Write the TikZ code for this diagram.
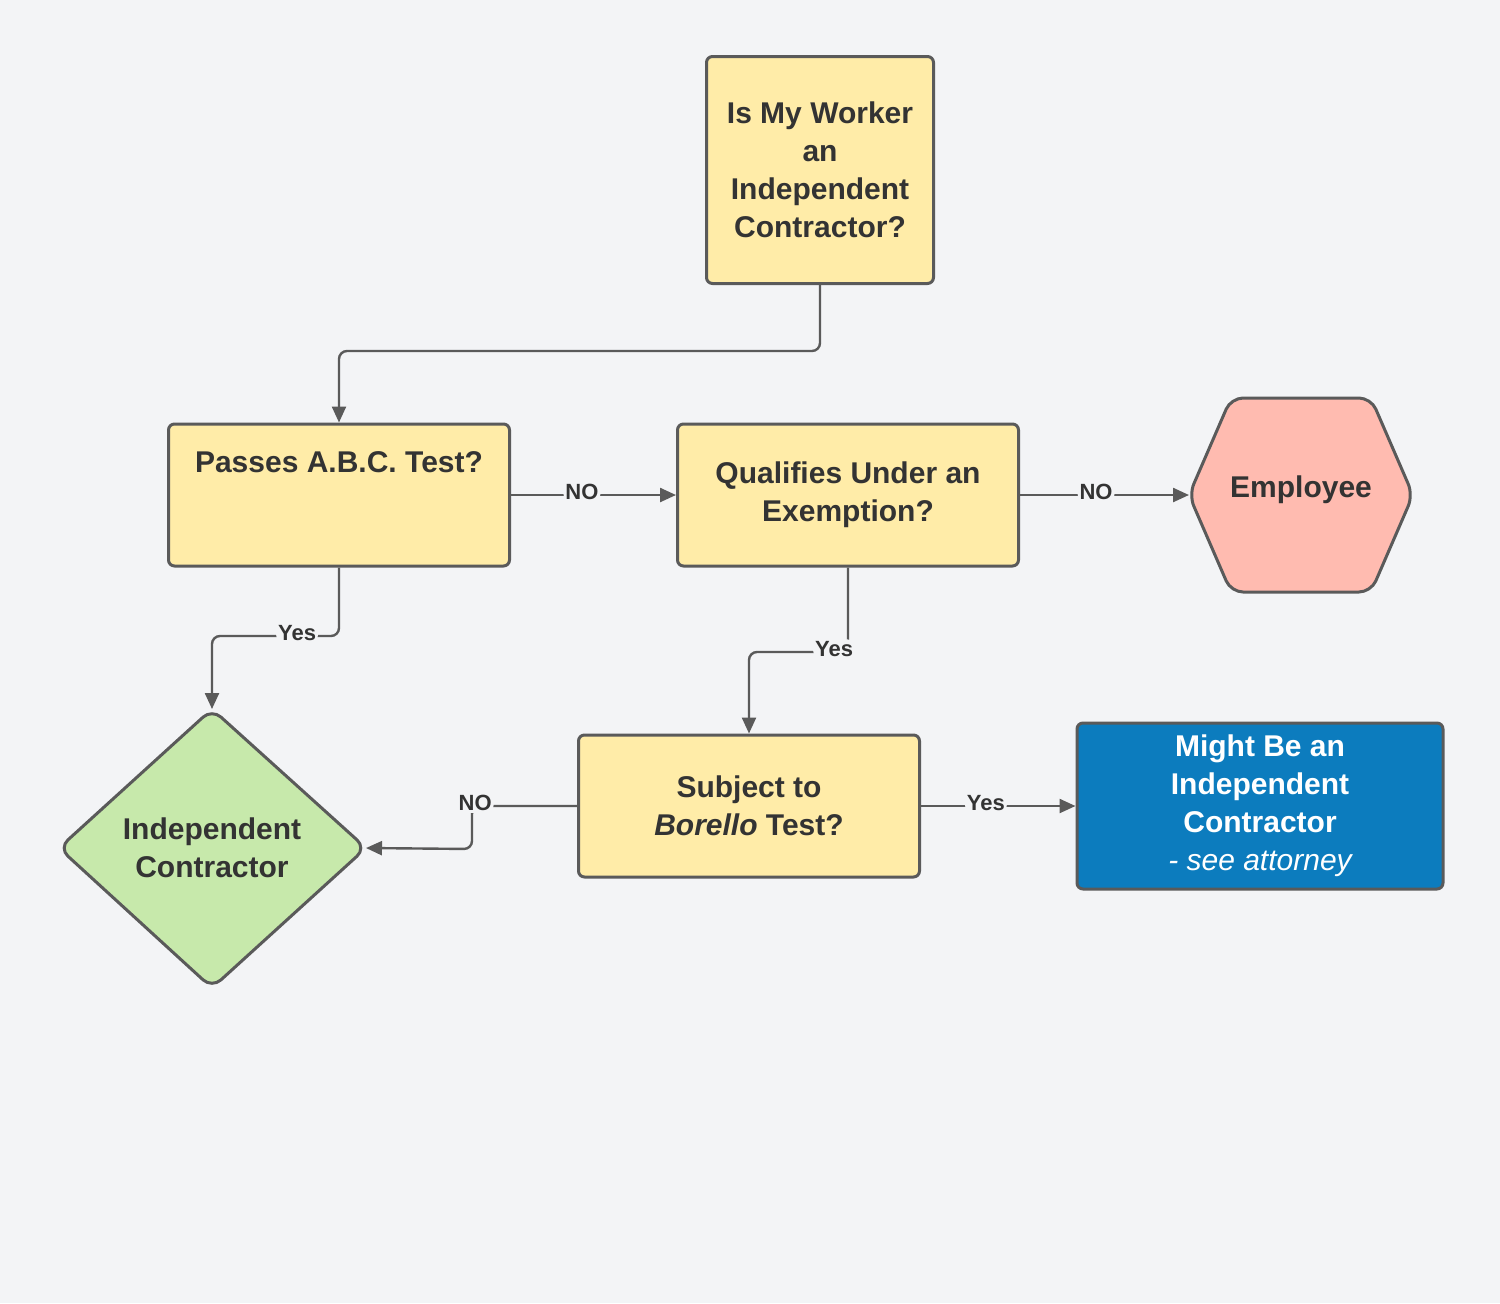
\documentclass[tikz,border=0pt]{standalone}
\usepackage{fontspec}
\setmainfont{Liberation Sans}
\usetikzlibrary{arrows.meta,shapes.geometric}
\definecolor{bg}{HTML}{F3F4F6}
\definecolor{yel}{HTML}{FFECA8}
\definecolor{bord}{HTML}{5A5A5A}
\definecolor{pink}{HTML}{FFBBB0}
\definecolor{grn}{HTML}{C7E9AB}
\definecolor{blu}{HTML}{0C7CBE}
\definecolor{txt}{HTML}{333333}
\tikzset{
 box/.style={draw=bord,line width=1.5pt,rounded corners=3pt,fill=yel,text=txt,font=\bfseries\fontsize{15}{19}\selectfont,align=center,inner sep=0pt},
 conn/.style={draw=bord,line width=1.2pt,-{Triangle[length=8pt,width=7pt]},rounded corners=4pt},
 lab/.style={fill=bg,text=txt,font=\bfseries\fontsize{11}{13}\selectfont,inner sep=1pt}
}
\begin{document}
\begin{tikzpicture}[x=0.5pt,y=-0.5pt]
\fill[bg] (0,0) rectangle (1500,1303);
\useasboundingbox (0,0) rectangle (1500,1303);
\node[box,minimum width=113.5pt,minimum height=113.5pt] (top) at (820,170) {Is My Worker\\an\\Independent\\Contractor?};
\node[box,minimum width=170.5pt,minimum height=71pt] (abc) at (339,495) {Passes A.B.C. Test?\\[0.9em]\mbox{}};
\node[box,minimum width=170.5pt,minimum height=71pt] (ex) at (848,495) {Qualifies Under an\\Exemption?};
\node[box,minimum width=170.5pt,minimum height=71pt] (bor) at (749,806) {Subject to\\\textit{Borello} Test?};
\node[box,fill=blu,text=white,minimum width=183pt,minimum height=83pt] (blue) at (1260,806) {Might Be an\\Independent\\Contractor\\\mdseries\itshape - see attorney};
\draw[draw=bord,line width=1.5pt,fill=pink,rounded corners=6pt] (1189,495) -- (1231,398) -- (1371,398) -- (1413,495) -- (1371,592) -- (1231,592) -- cycle;
\node[text=txt,font=\bfseries\fontsize{15}{19}\selectfont] (emp) at (1301,490) {Employee};
\coordinate (empL) at (1189,495);
\draw[draw=bord,line width=1.5pt,fill=grn,rounded corners=6pt] (59,848) -- (212,709) -- (366,848) -- (212,988) -- cycle;
\node[text=txt,font=\bfseries\fontsize{15}{19}\selectfont,align=center] (ic) at (212,848) {Independent\\Contractor};
\coordinate (icT) at (212,709);
\coordinate (icR) at (366,848);
\draw[conn] (top.south) -- (820,351) -- (339,351) -- (abc.north);
\draw[conn] (abc.east) -- node[lab,pos=0.43,yshift=1.5pt]{NO} (ex.west);
\draw[conn] (ex.east) -- node[lab,pos=0.45,yshift=1.5pt]{NO} (empL);
\draw[conn] (abc.south) -- (339,636) -- node[lab,pos=0.33,yshift=1.5pt]{Yes} (212,636) -- (icT);
\draw[conn] (ex.south) -- (848,652) -- node[lab,pos=0.14,yshift=1.5pt]{Yes} (749,652) -- (bor.north);
\draw[conn] (bor.west) -- node[lab,pos=0.97,yshift=1.5pt]{NO} (472,806) -- (472,849) -- (icR);
\draw[conn] (bor.east) -- node[lab,pos=0.42,yshift=1.5pt]{Yes} (blue.west);
\end{tikzpicture}
\end{document}
